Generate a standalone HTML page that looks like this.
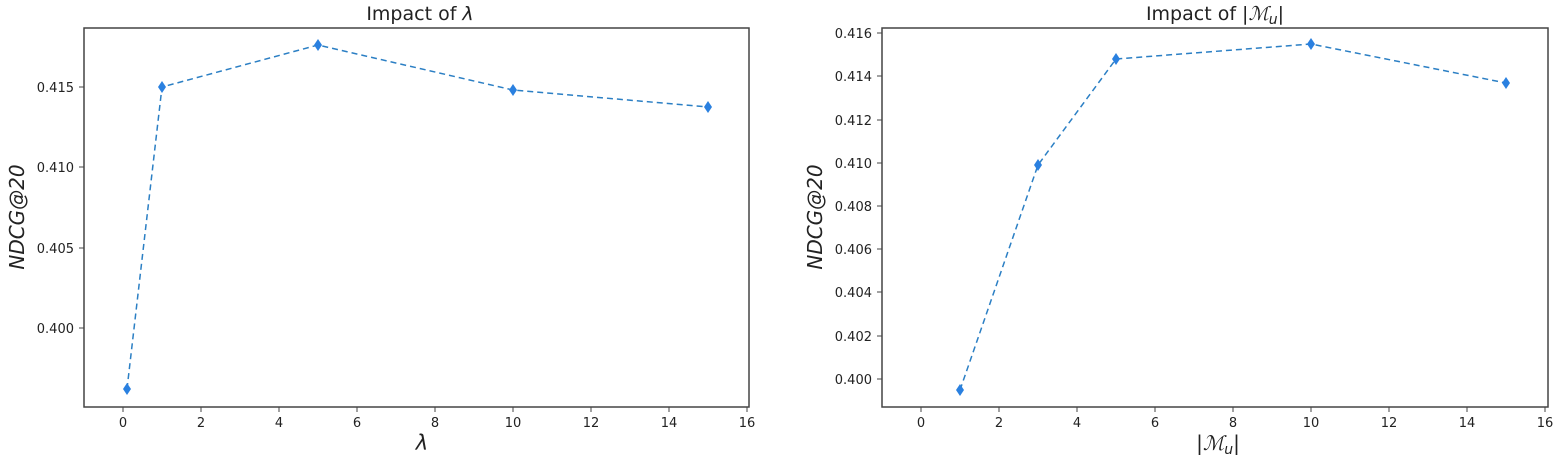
<!DOCTYPE html>
<html><head><style>
body{margin:0;background:#fff;}
svg text{font-family:"DejaVu Sans","Liberation Sans",sans-serif;fill:#222;}
</style></head><body>
<svg width="1561" height="459" viewBox="0 0 1561 459" xmlns="http://www.w3.org/2000/svg">
<!-- Left plot -->
<rect x="84" y="28" width="665" height="379" fill="none" stroke="#444" stroke-width="1.5"/>
<g font-size="13" text-anchor="middle">
<text x="123" y="427">0</text><text x="201" y="427">2</text><text x="279" y="427">4</text><text x="357" y="427">6</text><text x="435" y="427">8</text><text x="513" y="427">10</text><text x="591" y="427">12</text><text x="669" y="427">14</text><text x="747" y="427">16</text>
</g>
<g stroke="#444" stroke-width="1">
<line x1="123" y1="407" x2="123" y2="412"/><line x1="201" y1="407" x2="201" y2="412"/><line x1="279" y1="407" x2="279" y2="412"/><line x1="357" y1="407" x2="357" y2="412"/><line x1="435" y1="407" x2="435" y2="412"/><line x1="513" y1="407" x2="513" y2="412"/><line x1="591" y1="407" x2="591" y2="412"/><line x1="669" y1="407" x2="669" y2="412"/><line x1="747" y1="407" x2="747" y2="412"/>
<line x1="79" y1="87" x2="84" y2="87"/><line x1="79" y1="167" x2="84" y2="167"/><line x1="79" y1="248" x2="84" y2="248"/><line x1="79" y1="328" x2="84" y2="328"/>
</g>
<g font-size="13" text-anchor="end">
<text x="74" y="92">0.415</text><text x="74" y="172">0.410</text><text x="74" y="253">0.405</text><text x="74" y="333">0.400</text>
</g>
<text x="420" y="20" font-size="19" text-anchor="middle">Impact of <tspan font-style="italic">λ</tspan></text>
<text x="422" y="450" font-size="21" font-style="italic" text-anchor="middle">λ</text>
<text transform="translate(24,217) rotate(-90)" font-size="20" font-style="italic" text-anchor="middle">NDCG@20</text>
<polyline points="127,389 162,87 318,45 513,90 708,107" fill="none" stroke="#2b7fc4" stroke-width="1.5" stroke-dasharray="6,4"/>
<g fill="#2a80e0">
<path d="M127,383 l4,6 l-4,6 l-4,-6z"/><path d="M162,81 l4,6 l-4,6 l-4,-6z"/><path d="M318,39 l4,6 l-4,6 l-4,-6z"/><path d="M513,84 l4,6 l-4,6 l-4,-6z"/><path d="M708,101 l4,6 l-4,6 l-4,-6z"/>
</g>
<!-- Right plot -->
<rect x="882" y="28" width="666" height="379" fill="none" stroke="#444" stroke-width="1.5"/>
<g font-size="13" text-anchor="middle">
<text x="921" y="427">0</text><text x="999" y="427">2</text><text x="1077" y="427">4</text><text x="1155" y="427">6</text><text x="1233" y="427">8</text><text x="1311" y="427">10</text><text x="1389" y="427">12</text><text x="1467" y="427">14</text><text x="1545" y="427">16</text>
</g>
<g stroke="#444" stroke-width="1">
<line x1="921" y1="407" x2="921" y2="412"/><line x1="999" y1="407" x2="999" y2="412"/><line x1="1077" y1="407" x2="1077" y2="412"/><line x1="1155" y1="407" x2="1155" y2="412"/><line x1="1233" y1="407" x2="1233" y2="412"/><line x1="1311" y1="407" x2="1311" y2="412"/><line x1="1389" y1="407" x2="1389" y2="412"/><line x1="1467" y1="407" x2="1467" y2="412"/><line x1="1545" y1="407" x2="1545" y2="412"/>
<line x1="877" y1="33" x2="882" y2="33"/><line x1="877" y1="76" x2="882" y2="76"/><line x1="877" y1="120" x2="882" y2="120"/><line x1="877" y1="163" x2="882" y2="163"/><line x1="877" y1="206" x2="882" y2="206"/><line x1="877" y1="249" x2="882" y2="249"/><line x1="877" y1="292" x2="882" y2="292"/><line x1="877" y1="336" x2="882" y2="336"/><line x1="877" y1="379" x2="882" y2="379"/>
</g>
<g font-size="13" text-anchor="end">
<text x="872" y="38">0.416</text><text x="872" y="81">0.414</text><text x="872" y="125">0.412</text><text x="872" y="168">0.410</text><text x="872" y="211">0.408</text><text x="872" y="254">0.406</text><text x="872" y="297">0.404</text><text x="872" y="341">0.402</text><text x="872" y="384">0.400</text>
</g>
<text x="1215" y="20" font-size="19" text-anchor="middle">Impact of |<tspan font-style="italic" font-family="Liberation Serif,serif">ℳ</tspan><tspan font-style="italic" font-size="14" dy="4">u</tspan><tspan dy="-4">|</tspan></text>
<text x="1218" y="450" font-size="20" text-anchor="middle">|<tspan font-style="italic" font-family="Liberation Serif,serif">ℳ</tspan><tspan font-style="italic" font-size="14" dy="4">u</tspan><tspan dy="-4">|</tspan></text>
<text transform="translate(822,217) rotate(-90)" font-size="20" font-style="italic" text-anchor="middle">NDCG@20</text>
<polyline points="960,390 1038,165 1116,59 1311,44 1506,83" fill="none" stroke="#2b7fc4" stroke-width="1.5" stroke-dasharray="6,4"/>
<g fill="#2a80e0">
<path d="M960,384 l4,6 l-4,6 l-4,-6z"/><path d="M1038,159 l4,6 l-4,6 l-4,-6z"/><path d="M1116,53 l4,6 l-4,6 l-4,-6z"/><path d="M1311,38 l4,6 l-4,6 l-4,-6z"/><path d="M1506,77 l4,6 l-4,6 l-4,-6z"/>
</g>
</svg>
</body></html>
